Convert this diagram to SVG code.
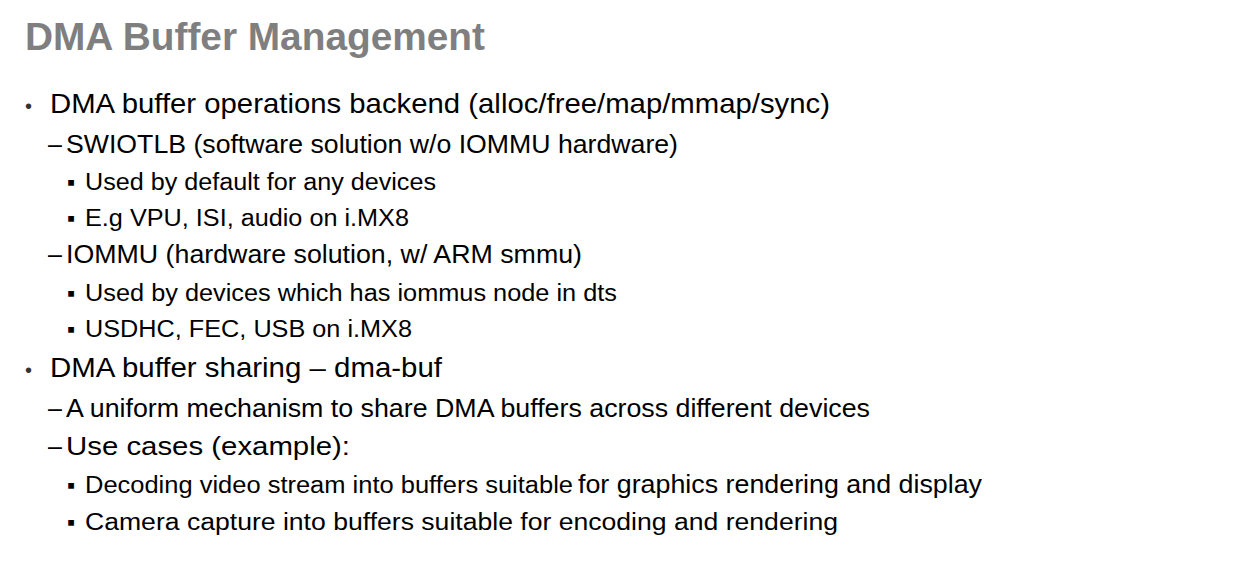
<svg xmlns="http://www.w3.org/2000/svg" width="1239" height="575" viewBox="0 0 1239 575">
<style>
text{font-family:"Liberation Sans",Arial,sans-serif;fill:#000}
.t{font-size:38px;font-weight:bold;fill:#7f7f7f}
.l1{font-size:28px}
.l2{font-size:25px}
.l3{font-size:23px}
.b{fill:#333}
</style>
<rect width="1239" height="575" fill="#fff"/>
<text class="t" x="25" y="50" textLength="460" lengthAdjust="spacingAndGlyphs">DMA Buffer Management</text>
<g id="bullet1">
<text class="b" x="25" y="113" font-size="20">•</text>
<text class="l1" x="50" y="113" textLength="780" lengthAdjust="spacingAndGlyphs">DMA buffer operations backend (alloc/free/map/mmap/sync)</text>
<text class="l2" x="48" y="153">–</text><text class="l2" x="66" y="153" textLength="612" lengthAdjust="spacingAndGlyphs">SWIOTLB (software solution w/o IOMMU hardware)</text>
<text class="l3" x="67" y="190">▪</text><text class="l3" x="85" y="190" textLength="351" lengthAdjust="spacingAndGlyphs">Used by default for any devices</text>
<text class="l3" x="67" y="226">▪</text><text class="l3" x="85" y="226" textLength="324" lengthAdjust="spacingAndGlyphs">E.g VPU, ISI, audio on i.MX8</text>
<text class="l2" x="48" y="263">–</text><text class="l2" x="66" y="263" textLength="516" lengthAdjust="spacingAndGlyphs">IOMMU (hardware solution, w/ ARM smmu)</text>
<text class="l3" x="67" y="301">▪</text><text class="l3" x="85" y="301" textLength="532" lengthAdjust="spacingAndGlyphs">Used by devices which has iommus node in dts</text>
<text class="l3" x="67" y="337">▪</text><text class="l3" x="85" y="337" textLength="327" lengthAdjust="spacingAndGlyphs">USDHC, FEC, USB on i.MX8</text>
</g>
<g id="bullet2">
<text class="b" x="25" y="377" font-size="20">•</text>
<text class="l1" x="50" y="377" textLength="392" lengthAdjust="spacingAndGlyphs">DMA buffer sharing – dma-buf</text>
<text class="l2" x="48" y="417">–</text><text class="l2" x="66" y="417" textLength="804" lengthAdjust="spacingAndGlyphs">A uniform mechanism to share DMA buffers across different devices</text>
<text class="l2" x="48" y="455">–</text><text class="l2" x="66" y="455" textLength="284" lengthAdjust="spacingAndGlyphs">Use cases (example):</text>
<text class="l3" x="67" y="493">▪</text><text class="l3" x="85" y="493" textLength="488" lengthAdjust="spacingAndGlyphs">Decoding video stream into buffers suitable</text>
<text class="l2" x="578" y="493" textLength="404" lengthAdjust="spacingAndGlyphs">for graphics rendering and display</text>
<text class="l3" x="67" y="530">▪</text><text class="l3" x="85" y="530" textLength="753" lengthAdjust="spacingAndGlyphs">Camera capture into buffers suitable for encoding and rendering</text>
</g>
</svg>
